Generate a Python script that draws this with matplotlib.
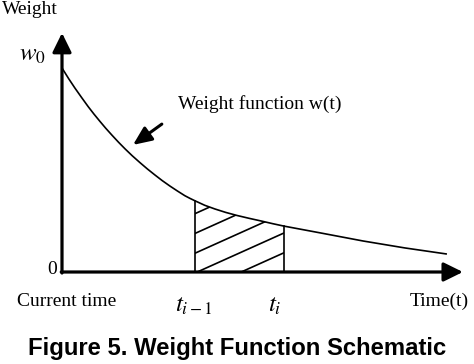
import numpy as np
import matplotlib.pyplot as plt
from matplotlib.patches import Polygon

plt.rcParams['mathtext.fontset'] = 'stix'

# weight curve (time t, weight w, w0 = 1)
t = [0.0, 0.17, 0.33, 0.5, 0.67, 0.82, 0.97, 1.12, 1.28, 1.45, 1.62, 1.8,
     2.0, 2.19, 2.38, 2.57, 2.77, 2.96, 3.15, 3.28, 3.41, 3.66,
     3.92, 4.2, 4.49, 4.8, 5.13, 5.4, 5.69, 6.67, 7.72, 8.79, 9.87]
w = [1.0, 0.948, 0.902, 0.856, 0.811, 0.774, 0.739, 0.705, 0.671, 0.636,
     0.603, 0.570, 0.536, 0.505, 0.476, 0.448, 0.421, 0.397, 0.374, 0.361,
     0.349, 0.327, 0.309, 0.292, 0.277, 0.263, 0.249, 0.237, 0.225,
     0.190, 0.152, 0.118, 0.088]
t_prev, t_cur = 3.41, 5.69   # t_{i-1}, t_i

serif = 'Liberation Serif'

fig = plt.figure(figsize=(4.74, 3.64), dpi=100)
ax = fig.add_axes([0, 0, 1, 1])
ax.set_xlim(-62 / 39, 412 / 39)
ax.set_ylim(-92 / 204, 272 / 204)
ax.axis('off')

# axes with arrow heads
head = '-|>,head_width=0.32,head_length=0.65'
ax.annotate('', xy=(0, 1.172), xytext=(0, -0.005),
            arrowprops=dict(arrowstyle=head, lw=2.3, color='black',
                            shrinkA=0, shrinkB=0, mutation_scale=18))
ax.annotate('', xy=(10.28, 0), xytext=(-0.02, 0),
            arrowprops=dict(arrowstyle=head, lw=2.3, color='black',
                            shrinkA=0, shrinkB=0, mutation_scale=18))

# weight curve
ax.plot(t, w, color='black', lw=1.2, solid_capstyle='butt')

# hatched strip between t_{i-1} and t_i
tt = np.array(t)
ww = np.array(w)
mask = (tt > t_prev) & (tt < t_cur)
top_t = np.concatenate([[t_prev], tt[mask], [t_cur]])
top_w = np.interp(top_t, tt, ww)
poly = Polygon(np.column_stack([np.concatenate([top_t, [t_cur, t_prev]]),
                                np.concatenate([top_w, [0, 0]])]),
               closed=True, facecolor='none', edgecolor='none')
ax.add_patch(poly)
ax.plot([t_prev, t_prev], [0, top_w[0]], color='black', lw=1.2)
ax.plot([t_cur, t_cur], [0, top_w[-1]], color='black', lw=1.2)
slope = 0.086
for k in range(-2, 5):
    off = k * 0.097 - 0.005
    xs = np.array([t_prev, t_cur])
    ln, = ax.plot(xs, off + slope * (xs - t_prev), color='black', lw=1.2)
    ln.set_clip_path(poly)

# pointer to the curve
ax.annotate('', xy=(1.82, 0.623), xytext=(2.56, 0.725),
            arrowprops=dict(arrowstyle='-|>,head_width=0.35,head_length=0.8',
                            lw=2.2, color='black', shrinkA=0, shrinkB=0,
                            mutation_scale=14))
ax.text(2.97, 0.80, 'Weight function w(t)', family=serif, fontsize=14,
        va='baseline', ha='left')

# labels
ax.text(-1.54, 1.265, 'Weight', family=serif, fontsize=14, va='baseline')
ax.text(-0.75, 1.035, '$w_0$', fontsize=18, va='baseline', ha='center')
ax.text(-0.13, -0.01, '0', family=serif, fontsize=14, va='baseline', ha='right')
ax.text(-1.15, -0.167, 'Current time', family=serif, fontsize=14, va='baseline')
ax.text(8.92, -0.167, 'Time(t)', family=serif, fontsize=14, va='baseline')
ax.text(t_prev - 0.52, -0.196, '$t_{i-1}$', fontsize=18, va='baseline')
ax.text(t_cur - 0.42, -0.196, '$t_i$', fontsize=18, va='baseline')

fig.text(0.5, 0.025, 'Figure 5. Weight Function Schematic',
         family='Liberation Sans', fontweight='bold', fontsize=17.2,
         ha='center', va='baseline')

fig.savefig('out.png', dpi=100)
